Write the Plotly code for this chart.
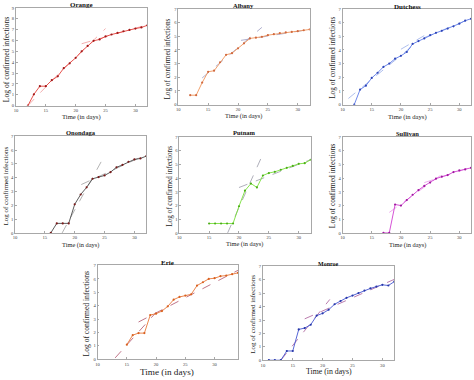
import plotly.graph_objects as go

W, H = 474, 380

# ---------------- data ----------------
names = ["Orange", "Albany", "Dutchess", "Onondaga", "Putnam", "Sullivan", "Erie", "Monroe"]

orange_days = list(range(12, 33))
orange_vals = [0, 1.04, 1.79, 1.79, 2.34, 2.7, 3.45, 3.9, 4.4, 5.0, 5.5, 5.97, 6.1, 6.37, 6.55,
               6.7, 6.85, 6.97, 7.1, 7.2, 7.4]
albany_days = list(range(12, 33))
albany_vals = [0.69, 0.69, 1.61, 2.4, 2.48, 3.1, 3.64, 3.76, 4.12, 4.48, 4.84, 4.9, 4.96, 5.08,
               5.15, 5.23, 5.28, 5.32, 5.37, 5.44, 5.5]
dutchess_days = list(range(12, 33))
dutchess_vals = [0, 1.1, 1.39, 1.95, 2.33, 2.76, 3.0, 3.36, 3.57, 3.85, 4.44, 4.65, 4.84, 5.08,
                 5.25, 5.4, 5.56, 5.73, 5.92, 6.14, 6.28]
onondaga_days = list(range(16, 33))
onondaga_vals = [0, 0.69, 0.69, 0.69, 2.07, 2.78, 3.3, 3.92, 4.04, 4.16, 4.4, 4.75, 4.92, 5.15,
                 5.32, 5.39, 5.56]
putnam_days = list(range(15, 33))
putnam_vals = [0.69, 0.69, 0.69, 0.69, 0.69, 1.95, 3.09, 3.61, 3.33, 4.2, 4.38, 4.47, 4.62, 4.76,
               4.9, 5.05, 5.1, 5.35]
sullivan_days = list(range(17, 33))
sullivan_vals = [0, 0, 2.08, 2.0, 2.4, 2.79, 3.13, 3.44, 3.68, 3.97, 4.11, 4.23, 4.45, 4.57,
                 4.64, 4.76]
erie_days = list(range(15, 35))
erie_vals = [1.09, 1.8, 1.95, 1.95, 3.3, 3.4, 3.6, 3.95, 4.45, 4.65, 4.75, 4.85, 5.5, 5.75, 6.0,
             6.05, 6.2, 6.25, 6.35, 6.45]
monroe_days = list(range(11, 33))
monroe_vals = [0, 0, 0, 0.69, 0.69, 2.3, 2.4, 2.65, 3.33, 3.5, 3.77, 4.18, 4.42, 4.66, 4.83, 5.02,
               5.2, 5.36, 5.5, 5.63, 5.58, 5.87]

# fitted phase lines: (x0, x1, y0, y1)
orange_fits = [(12, 16, 0, 2.3), (16, 25, 2.3, 7.1), (21, 32, 5.7, 7.45)]
albany_fits = [(14, 24, 1.95, 5.65), (20.5, 32, 4.7, 5.5)]
dutchess_fits = [(11, 22, 0.45, 4.3), (20, 24, 4.05, 5.05), (24, 32, 4.9, 6.3)]
onondaga_fits = [(17.9, 25, 0, 5.6), (21.1, 32, 3.5, 5.67)]
putnam_fits = [(18.1, 23.9, 0, 5.67), (20, 32, 3.32, 5.36)]
sullivan_fits = [(18, 28, 1.5, 4.58), (24, 32, 3.68, 4.8)]
erie_fits = [(13, 20, 0.1, 3.5), (17, 34, 2.78, 6.64)]
monroe_fits = [(13, 21.2, 0, 4.54), (17, 32, 3.09, 6.04)]

days = [orange_days, albany_days, dutchess_days, onondaga_days, putnam_days, sullivan_days,
        erie_days, monroe_days]
vals = [orange_vals, albany_vals, dutchess_vals, onondaga_vals, putnam_vals, sullivan_vals,
        erie_vals, monroe_vals]
fits = [orange_fits, albany_fits, dutchess_fits, onondaga_fits, putnam_fits, sullivan_fits,
        erie_fits, monroe_fits]

x_ticks = [10, 15, 20, 25, 30]
y_max = [9, 7, 7, 7, 7, 7, 7, 7]
x_max = [32, 32, 32, 32, 32, 32, 34, 32]

# ---------------- styling / layout (pixels) ----------------
line_colors = ["#e4403a", "#f0965c", "#5d7be8", "#4a4a4a", "#78e03a", "#d040d0", "#e8783a", "#4455d0"]
marker_colors = ["#a01818", "#d0683e", "#2f46b8", "#7a1a1a", "#4cae18", "#a018a0", "#d86020", "#2636a8"]
fit_colors = ["#f09a9a", "#9a9ac0", "#9aaee8", "#a0a0a0", "#9a9aa8", "#ea96ea", "#b0506a", "#a85a98"]

# box: left, right, top, bottom in px
boxes = [
    (14, 146, 6, 105),
    (177, 309, 7, 104),
    (342, 471, 7, 104),
    (13, 145, 136, 234),
    (178, 310, 137, 234),
    (342, 471, 137, 234),
    (96, 237, 267, 362),
    (262, 394, 268, 363),
]
title_pos = [(80, 3), (243, 4), (407, 5), (79, 132), (244, 132), (407, 133), (166, 264), (328, 265)]
title_size = [7, 6.5, 7, 6.5, 6.5, 6.5, 7, 6]
xlab_pos = [(80, 116.5), (243, 116), (407, 117), (79, 246), (244, 245), (407, 246), (166, 374.5), (328, 374)]
xlab_size = [6.6, 6.4, 6.6, 6.4, 6.4, 6.4, 9.2, 7.8]
ylab_pos = [(4, 58), (167, 58), (332, 57), (4, 186), (168, 187), (332, 187), (85, 316), (252, 316)]
ylab_size = [7.6, 7.2, 7.3, 7.0, 7.2, 7.5, 7.6, 7.0]

FONT = "Liberation Serif"


def px(x):
    return x / W


def py(y):
    return 1 - y / H


fig = go.Figure()
layout = dict(width=W, height=H, margin=dict(l=0, r=0, t=0, b=0),
              paper_bgcolor="white", plot_bgcolor="white", showlegend=False,
              font=dict(family=FONT, color="#222"))
annotations = []

for i in range(8):
    k = "" if i == 0 else str(i + 1)
    xa, ya = "x" + k, "y" + k
    l, r, t, b = boxes[i]
    # fits (drawn beneath the data)
    for (x0, x1, y0, y1) in fits[i]:
        fig.add_trace(go.Scatter(x=[x0, x1], y=[y0, y1], mode="lines", xaxis=xa, yaxis=ya,
                                 line=dict(color=fit_colors[i], width=0.8, dash="dash")))
    # data
    fig.add_trace(go.Scatter(x=days[i], y=vals[i], mode="lines+markers", xaxis=xa, yaxis=ya,
                             line=dict(color=line_colors[i], width=0.9),
                             marker=dict(color=marker_colors[i], size=2.2)))
    axcommon = dict(showline=True, mirror=True, linecolor="#a8a8a8", linewidth=0.7,
                    ticks="inside", ticklen=2, tickcolor="#a8a8a8", showgrid=False,
                    zeroline=False, tickfont=dict(family=FONT, size=4.6, color="#444"))
    layout["xaxis" + k] = dict(domain=[px(l), px(r)], range=[10, x_max[i]], tickvals=x_ticks,
                               anchor=ya, **axcommon)
    layout["yaxis" + k] = dict(domain=[py(b), py(t)], range=[0, y_max[i]], dtick=1,
                               anchor=xa, **axcommon)
    tx, ty = title_pos[i]
    annotations.append(dict(text="<b>" + names[i] + "</b>", x=px(tx), y=py(ty), xref="paper",
                            yref="paper", showarrow=False, xanchor="center", yanchor="middle",
                            borderpad=0,
                            font=dict(family=FONT, size=title_size[i], color="#111")))
    lx, ly = xlab_pos[i]
    annotations.append(dict(text="Time (in days)", x=px(lx), y=py(ly), xref="paper", yref="paper",
                            showarrow=False, xanchor="center", yanchor="middle", borderpad=0,
                            font=dict(family=FONT, size=xlab_size[i], color="#222")))
    yx, yy = ylab_pos[i]
    annotations.append(dict(text="Log of confirmed infections", x=px(yx), y=py(yy), xref="paper",
                            yref="paper", showarrow=False, xanchor="center", yanchor="middle",
                            textangle=-90, borderpad=0,
                            font=dict(family=FONT, size=ylab_size[i], color="#222")))

layout["annotations"] = annotations
fig.update_layout(**layout)
fig.write_html("out.html", config={"displayModeBar": False},
               post_script="document.body.style.margin='0px';document.body.style.overflow='hidden';")
